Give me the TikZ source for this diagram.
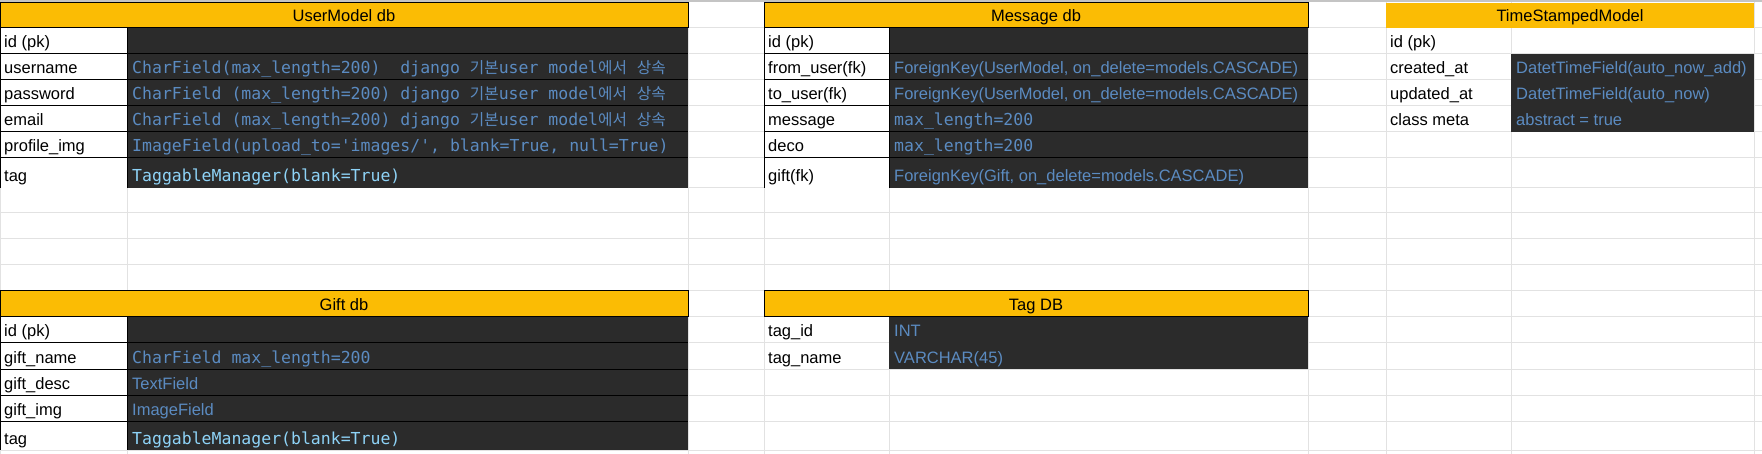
\documentclass[tikz,border=0pt]{standalone}
\usepackage{fontspec}
\setmainfont{Liberation Sans}
\newfontfamily\codemono{DejaVu Sans Mono}
\newfontfamily\kr{Noto Sans CJK KR}[Scale=0.95]
\definecolor{hdryellow}{HTML}{FBBC04}
\definecolor{darkcell}{HTML}{2B2B2B}
\definecolor{codeblue}{HTML}{5B8BC1}
\definecolor{taglight}{HTML}{8ED3F7}
\definecolor{gridgray}{HTML}{E2E2E2}
\definecolor{topgray}{HTML}{C4C4C4}
\begin{document}
\begin{tikzpicture}[x=1pt,y=-1pt,
  lab/.style={anchor=base west, inner sep=0pt, font=\fontsize{16.5}{18}\selectfont, text=black},
  hdr/.style={anchor=base, inner sep=0pt, font=\fontsize{16.5}{18}\selectfont, text=black},
  val/.style={anchor=base west, inner sep=0pt, font=\fontsize{16.5}{18}\selectfont, text=codeblue},
  code/.style={anchor=base west, inner sep=0pt, font=\fontsize{16.5}{18}\selectfont\codemono, text=codeblue},
  tagcode/.style={code, text=taglight},
  gridline/.style={draw=gridgray, line width=1pt},
  border/.style={draw=black, line width=1pt}]
\fill[white] (0,0) rectangle (1762,454);
\useasboundingbox (0,0) rectangle (1762,454);
% sheet grid
\foreach \y in {28,54,80,106,132,158,188,213,239,265,291,317,343,369,395,421,450}
  \draw[gridline] (0,\y) -- (1762,\y);
\foreach \x in {0.5,127,688,764,889,1308,1386,1511,1754}
  \draw[gridline] (\x,0) -- (\x,454);
\draw[draw=topgray, line width=2pt] (0,1.5) -- (1762,1.5);
% ---------- UserModel db ----------
\fill[hdryellow] (0.5,3) rectangle (688,28);
\fill[white] (0.5,28) rectangle (127,188);
\fill[darkcell] (127,28) rectangle (688,188);
\draw[border] (0.5,3) rectangle (688,28);
\foreach \y in {54,80,106,132,158} \draw[border] (0.5,\y) -- (688,\y);
\draw[border] (0.5,28) -- (0.5,188);
\draw[border] (127,28) -- (127,188);
\node[hdr] (uh) at (344,22) {UserModel db};
\node[lab] (u1) at (4,48) {id (pk)};
\node[lab] (u2) at (4,74) {username};
\node[lab] (u3) at (4,100) {password};
\node[lab] (u4) at (4,126) {email};
\node[lab] (u5) at (4,152) {profile\_img};
\node[lab] (u6) at (4,182) {tag};
\node[code] (uv2) at (132,74) {CharField(max\_length=200)\ \ django {\kr 기본}user model{\kr 에서} {\kr 상속}};
\node[code] (uv3) at (132,100) {CharField (max\_length=200) django {\kr 기본}user model{\kr 에서} {\kr 상속}};
\node[code] (uv4) at (132,126) {CharField (max\_length=200) django {\kr 기본}user model{\kr 에서} {\kr 상속}};
\node[code] (uv5) at (132,152) {ImageField(upload\_to='images/', blank=True, null=True)};
\node[tagcode] (uv6) at (132,182) {TaggableManager(blank=True)};
% ---------- Message db ----------
\fill[hdryellow] (764,3) rectangle (1308,28);
\fill[white] (764,28) rectangle (889,188);
\fill[darkcell] (889,28) rectangle (1308,188);
\draw[border] (764,3) rectangle (1308,28);
\foreach \y in {54,80,106,132,158} \draw[border] (764,\y) -- (1308,\y);
\draw[border] (764,28) -- (764,188);
\draw[border] (889,28) -- (889,188);
\node[hdr] (mh) at (1036,22) {Message db};
\node[lab] (m1) at (768,48) {id (pk)};
\node[lab] (m2) at (768,74) {from\_user(fk)};
\node[lab] (m3) at (768,100) {to\_user(fk)};
\node[lab] (m4) at (768,126) {message};
\node[lab] (m5) at (768,152) {deco};
\node[lab] (m6) at (768,182) {gift(fk)};
\node[val] (mv2) at (894,74) {ForeignKey(UserModel, on\_delete=models.CASCADE)};
\node[val] (mv3) at (894,100) {ForeignKey(UserModel, on\_delete=models.CASCADE)};
\node[code] (mv4) at (894,126) {max\_length=200};
\node[code] (mv5) at (894,152) {max\_length=200};
\node[val] (mv6) at (894,182) {ForeignKey(Gift, on\_delete=models.CASCADE)};
% ---------- TimeStampedModel ----------
\fill[hdryellow] (1386,3) rectangle (1754,28);
\fill[darkcell] (1511,54) rectangle (1754,132);
\node[hdr] (th) at (1570,22) {TimeStampedModel};
\node[lab] (t1) at (1390,48) {id (pk)};
\node[lab] (t2) at (1390,74) {created\_at};
\node[lab] (t3) at (1390,100) {updated\_at};
\node[lab] (t4) at (1390,126) {class meta};
\node[val] (tv2) at (1516,74) {DatetTimeField(auto\_now\_add)};
\node[val] (tv3) at (1516,100) {DatetTimeField(auto\_now)};
\node[val] (tv4) at (1516,126) {abstract = true};
% ---------- Gift db ----------
\fill[hdryellow] (0.5,291) rectangle (688,317);
\fill[white] (0.5,317) rectangle (127,450);
\fill[darkcell] (127,317) rectangle (688,450);
\draw[border] (0.5,291) rectangle (688,317);
\foreach \y in {343,369,395,421} \draw[border] (0.5,\y) -- (688,\y);
\draw[border] (0.5,317) -- (0.5,450);
\draw[border] (127,317) -- (127,450);
\node[hdr] (gh) at (344,311) {Gift db};
\node[lab] (g1) at (4,337) {id (pk)};
\node[lab] (g2) at (4,363) {gift\_name};
\node[lab] (g3) at (4,389) {gift\_desc};
\node[lab] (g4) at (4,415) {gift\_img};
\node[lab] (g5) at (4,444) {tag};
\node[code] (gv2) at (132,363) {CharField max\_length=200};
\node[val] (gv3) at (132,389) {TextField};
\node[val] (gv4) at (132,415) {ImageField};
\node[tagcode] (gv5) at (132,444) {TaggableManager(blank=True)};
% ---------- Tag DB ----------
\fill[hdryellow] (764,291) rectangle (1308,317);
\fill[darkcell] (889,317) rectangle (1308,369);
\draw[border] (764,291) rectangle (1308,317);
\node[hdr] (tgh) at (1036,311) {Tag DB};
\node[lab] (tg1) at (768,337) {tag\_id};
\node[lab] (tg2) at (768,363) {tag\_name};
\node[val] (tgv1) at (894,337) {INT};
\node[val] (tgv2) at (894,363) {VARCHAR(45)};
\end{tikzpicture}
\end{document}
